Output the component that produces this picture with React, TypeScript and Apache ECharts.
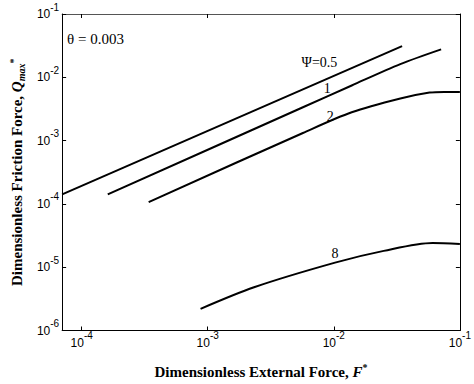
import React, { useEffect, useRef } from 'react';
import * as echarts from 'echarts';

// Curve data (log-log)
const psi05X = [7.0e-5, 0.0348];
const psi05Y = [1.41e-4, 0.031];

const psi1X = [1.61e-4, 5.69e-3, 0.01387, 0.0337, 0.071];
const psi1Y = [1.41e-4, 3.36e-3, 7.43e-3, 0.01615, 0.0276];

const psi2X = [3.4e-4, 5.69e-3, 0.01387, 0.0337, 0.0575, 0.0752, 0.1];
const psi2Y = [1.07e-4, 1.32e-3, 2.8e-3, 4.62e-3, 5.73e-3, 5.87e-3, 5.87e-3];

const psi8X = [8.77e-4, 2.33e-3, 0.01023, 0.0249, 0.0607, 0.1];
const psi8Y = [2.2e-6, 4.82e-6, 1.18e-5, 1.81e-5, 2.41e-5, 2.32e-5];

const curveLabels = ['\u03A8=0.5', '1', '2', '8'];
const curveLabelX = [7.69e-3, 8.87e-3, 9.35e-3, 0.01023];
const curveLabelY = [0.01733, 6.6e-3, 2.43e-3, 1.62e-5];

const xMin = 7.0e-5;
const xMax = 0.1;
const yMin = 1e-6;
const yMax = 0.1;

const thetaText = '\u03B8 = 0.003';

const zip = (xs: number[], ys: number[]) => xs.map((x, i) => [x, ys[i]]);

const powFmt = (v: number) => {
  const l = Math.log10(v);
  const e = Math.round(l);
  if (Math.abs(l - e) > 1e-6) return '';
  return `{b|10}{e|${e}}`;
};

const labelFont = 'Liberation Sans, Arial, sans-serif';
const serif = 'Liberation Serif, Times New Roman, serif';

export default function App() {
  const ref = useRef<HTMLDivElement>(null);
  useEffect(() => {
    if (!ref.current) return;
    const chart = echarts.init(ref.current, undefined, { renderer: 'svg' });
    const lineStyle = { color: '#000', width: 2 };
    const series: any[] = [
      [psi05X, psi05Y],
      [psi1X, psi1Y],
      [psi2X, psi2Y],
      [psi8X, psi8Y],
    ].map(([xs, ys], i) => ({
      type: 'line',
      data: zip(xs, ys),
      showSymbol: false,
      symbol: 'none',
      lineStyle,
      smooth: 0.3,
      z: 3,
      markPoint: {
        symbol: 'circle',
        symbolSize: 1,
        itemStyle: { color: 'rgba(0,0,0,0)' },
        label: {
          show: true,
          position: 'inside',
          formatter: curveLabels[i],
          color: '#000',
          fontFamily: serif,
          fontSize: 14,
        },
        data: [{ coord: [curveLabelX[i], curveLabelY[i]] }],
      },
    }));

    chart.setOption({
      animation: false,
      backgroundColor: '#fff',
      grid: { left: 53, right: 13, top: 14, bottom: 48 },
      xAxis: [
        {
          type: 'log',
          logBase: 10,
          min: xMin,
          max: xMax,
          position: 'bottom',
          name: '{t|Dimensionless External Force, }{f|F}{p|*}',
          nameLocation: 'middle',
          nameGap: 32,
          nameTextStyle: {
            rich: {
              t: { fontFamily: serif, fontWeight: 'bold', fontSize: 15, lineHeight: 18, color: '#000' },
              f: { fontFamily: serif, fontWeight: 'bold', fontStyle: 'italic', fontSize: 15, lineHeight: 18, color: '#000' },
              p: { fontFamily: serif, fontWeight: 'bold', fontSize: 10, lineHeight: 8, verticalAlign: 'top', color: '#000' },
            },
          },
          axisLine: { show: true, lineStyle: { color: '#000', width: 1 } },
          axisTick: { show: true, inside: true, length: 4, lineStyle: { color: '#000' } },
          splitLine: { show: false },
          axisLabel: {
            show: true,
            margin: 0,
            formatter: powFmt,
            showMinLabel: false,
            rich: {
              b: { fontFamily: labelFont, fontSize: 12, lineHeight: 24, color: '#000' },
              e: { fontFamily: labelFont, fontSize: 10, lineHeight: 10, verticalAlign: 'top', color: '#000' },
            },
          },
        },
        {
          type: 'log',
          logBase: 10,
          min: xMin,
          max: xMax,
          position: 'top',
          axisLine: { show: true, lineStyle: { color: '#555', width: 1 } },
          axisTick: { show: true, inside: true, length: 4, lineStyle: { color: '#000' } },
          axisLabel: { show: false },
          splitLine: { show: false },
        },
      ],
      yAxis: [
        {
          type: 'log',
          logBase: 10,
          min: yMin,
          max: yMax,
          position: 'left',
          name: '{t|Dimensionless Friction Force, }{q|Q}{s|max}{p|*}',
          nameLocation: 'middle',
          nameGap: 33,
          nameTextStyle: {
            rich: {
              t: { fontFamily: serif, fontWeight: 'bold', fontSize: 15, lineHeight: 18, color: '#000' },
              q: { fontFamily: serif, fontWeight: 'bold', fontStyle: 'italic', fontSize: 15, lineHeight: 18, color: '#000' },
              s: { fontFamily: serif, fontWeight: 'bold', fontStyle: 'italic', fontSize: 10, lineHeight: 8, verticalAlign: 'bottom', color: '#000' },
              p: { fontFamily: serif, fontWeight: 'bold', fontSize: 10, lineHeight: 8, verticalAlign: 'top', color: '#000' },
            },
          },
          axisLine: { show: true, lineStyle: { color: '#000', width: 1 } },
          axisTick: { show: true, inside: true, length: 4, lineStyle: { color: '#000' } },
          splitLine: { show: false },
          axisLabel: {
            show: true,
            margin: 3,
            formatter: powFmt,
            rich: {
              b: { fontFamily: labelFont, fontSize: 12, lineHeight: 24, color: '#000' },
              e: { fontFamily: labelFont, fontSize: 10, lineHeight: 8, verticalAlign: 'top', color: '#000' },
            },
          },
        },
        {
          type: 'log',
          logBase: 10,
          min: yMin,
          max: yMax,
          position: 'right',
          axisLine: { show: true, lineStyle: { color: '#000', width: 1 } },
          axisTick: { show: true, inside: true, length: 4, lineStyle: { color: '#000' } },
          axisLabel: { show: false },
          splitLine: { show: false },
        },
      ],
      graphic: [
        {
          type: 'text',
          left: 67,
          top: 31,
          style: { text: thetaText, fontFamily: serif, fontSize: 15, fill: '#000' },
        },
      ],
      series,
    });
    return () => chart.dispose();
  }, []);
  return (
    <div
      ref={ref}
      style={{ position: 'fixed', left: 0, top: 0, width: 474, height: 384, background: '#fff' }}
    />
  );
}
